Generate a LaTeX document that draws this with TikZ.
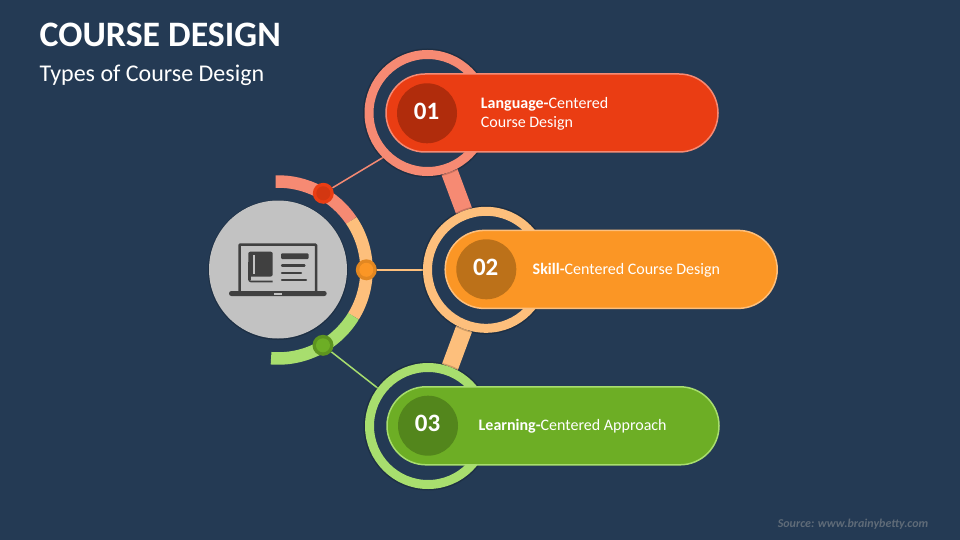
\documentclass[tikz,border=0pt]{standalone}
\usepackage{fontspec}
\setmainfont{Carlito}
\usetikzlibrary{shapes.misc}
\definecolor{bgc}{HTML}{243A54}
\definecolor{redM}{HTML}{EA3D13}\definecolor{redD}{HTML}{B02C0C}\definecolor{redL}{HTML}{F68A73}
\definecolor{oraM}{HTML}{FB9625}\definecolor{oraD}{HTML}{BC7119}\definecolor{oraL}{HTML}{FDBF7C}
\definecolor{greM}{HTML}{6DAE25}\definecolor{greD}{HTML}{53861C}\definecolor{greL}{HTML}{A8DE6E}
\definecolor{iconc}{HTML}{404040}
\definecolor{srcc}{HTML}{5F6B78}
\pgfdeclarelayer{backdrop}\pgfdeclarelayer{links}
\pgfsetlayers{backdrop,links,main}
\tikzset{
  x=1pt,y=-1pt,
  ring/.style={circle,draw=#1,line width=9pt,fill=bgc,minimum size=117pt,inner sep=0pt},
  pill/.style n args={2}{rounded rectangle,draw=#2,fill=#1,line width=1.5pt,minimum width=332pt,minimum height=78pt,inner sep=0pt},
  badge/.style={circle,fill=#1,minimum size=60pt,inner sep=0pt},
  numtext/.style={text=white,font=\fontsize{25}{25}\selectfont\bfseries,inner sep=0pt},
  pilltext/.style={text=white,font=\fontsize{16}{19}\selectfont,anchor=west,align=left,inner sep=0pt},
  dotouter/.style={circle,fill=#1,minimum size=21pt,inner sep=0pt},
  dotinner/.style={circle,fill=#1,minimum size=14pt,inner sep=0pt},
  band/.style={line width=12.5pt,draw=#1},
  bar/.style={line width=17pt,draw=#1},
  thinlink/.style={line width=1.5pt,draw=#1},
  iconline/.style={line width=2.2pt,draw=iconc,line cap=round},
  softshadow/.style={black,opacity=.18},
}
\begin{document}
\begin{tikzpicture}
\useasboundingbox (0,0) rectangle (960,540);
\begin{pgfonlayer}{backdrop}
\fill[bgc] (0,0) rectangle (960,540);
\end{pgfonlayer}

% titles
\node[anchor=west,text=white,inner sep=0pt,font=\fontsize{35.8}{36}\selectfont\bfseries] (title) at (39.5,34.5) {COURSE DESIGN};
\node[anchor=west,text=white,inner sep=0pt,font=\fontsize{24}{24}\selectfont] (subtitle) at (39.5,75.5) {Types of Course Design};
\node[anchor=east,text=srcc,inner sep=0pt,font=\fontsize{12}{12}\selectfont\bfseries\itshape] (source) at (928.5,524) {Source: www.brainybetty.com};

% left hub
\fill[softshadow] (278,270) circle (70);
\node[circle,fill=black!24,minimum size=138pt,inner sep=0pt] (hub) at (278,269.5) {};
\draw[band=redL] ([shift={(278,270)}]-91.5:88.5) arc[start angle=-91.5,end angle=-34,radius=88.5];
\draw[band=oraL] ([shift={(278,270)}]-34:88.5) arc[start angle=-34,end angle=31.5,radius=88.5];
\draw[band=greL] ([shift={(278,270)}]31.5:88.5) arc[start angle=31.5,end angle=94.5,radius=88.5];

% laptop icon
\draw[iconc,line width=2.5pt,rounded corners=1pt] (239.5,291) -- (239.5,244.5) -- (316,244.5) -- (316,291);
\fill[iconc,rounded corners=2.4pt] (229,291) rectangle (326.7,296);
\fill[black!24] (274,292.8) rectangle (282,294.8);
\fill[iconc,rounded corners=2pt] (248.3,251.7) rectangle (272.7,276.5);
\fill[iconc] (248.3,262) rectangle (251,280);
\draw[iconc,line width=1.6pt,rounded corners=2pt] (249,275.5) -- (249,281.5) -- (272.7,281.5);
\fill[black!24] (253,255) rectangle (255,274);
\fill[iconc,rounded corners=1pt] (281,253.3) rectangle (308.5,259);
\draw[iconline] (282,265.5) -- (304.5,265.5);
\draw[iconline] (282,272.7) -- (301,272.7);
\draw[iconline] (282,279.7) -- (306,279.7);

% rings
\node[ring=redL] (ring1) at (427.5,113) {};
\node[ring=oraL] (ring2) at (486,269.8) {};
\node[ring=greL] (ring3) at (428,426) {};

% dots
\node[dotouter=redM] (dot1) at (323.3,193.3) {};
\node[dotinner=redM!90!black] (dot1i) at (dot1) {};
\node[dotouter=oraM!90!black] (dot2) at (366.3,269.8) {};
\node[dotinner=oraM] (dot2i) at (dot2) {};
\node[dotouter=greM!85!black] (dot3) at (323,345.3) {};
\node[dotinner=greM] (dot3i) at (dot3) {};

% connectors
\begin{pgfonlayer}{links}
\draw[bar=redL] (ring1) -- (ring2);
\draw[bar=oraL] (ring2) -- (ring3);
\draw[thinlink=redL] (dot1) -- (ring1.225);
\draw[thinlink=oraL] (dot2) -- (ring2.180);
\draw[thinlink=greL] (dot3) -- (ring3.143);
\fill[softshadow] (ring1.center) circle (64.5);
\fill[softshadow] (ring2.center) circle (64.5);
\fill[softshadow] (ring3.center) circle (64.5);
\end{pgfonlayer}

% pills
\node[pill={redM}{redL}] (pill1) at (552,113) {};
\node[pill={oraM}{oraL}] (pill2) at (611.2,269.4) {};
\node[pill={greM}{greL}] (pill3) at (553,425.8) {};

\node[badge=redD] (badge1) at (427,113.3) {};
\node[badge=oraD] (badge2) at (486.3,269.3) {};
\node[badge=greD] (badge3) at (428,425.7) {};

\node[numtext] (num1) at (426.5,111.5) {01};
\node[numtext] (num2) at (485.7,267.5) {02};
\node[numtext] (num3) at (427.5,423.5) {03};

\node[pilltext] (text1) at (480.7,114) {\textbf{Language-}Centered\\Course Design};
\node[pilltext] (text2) at (532.5,270.7) {\textbf{Skill-}Centered Course Design};
\node[pilltext] (text3) at (478.5,426.7) {\textbf{Learning-}Centered Approach};
\end{tikzpicture}
\end{document}
